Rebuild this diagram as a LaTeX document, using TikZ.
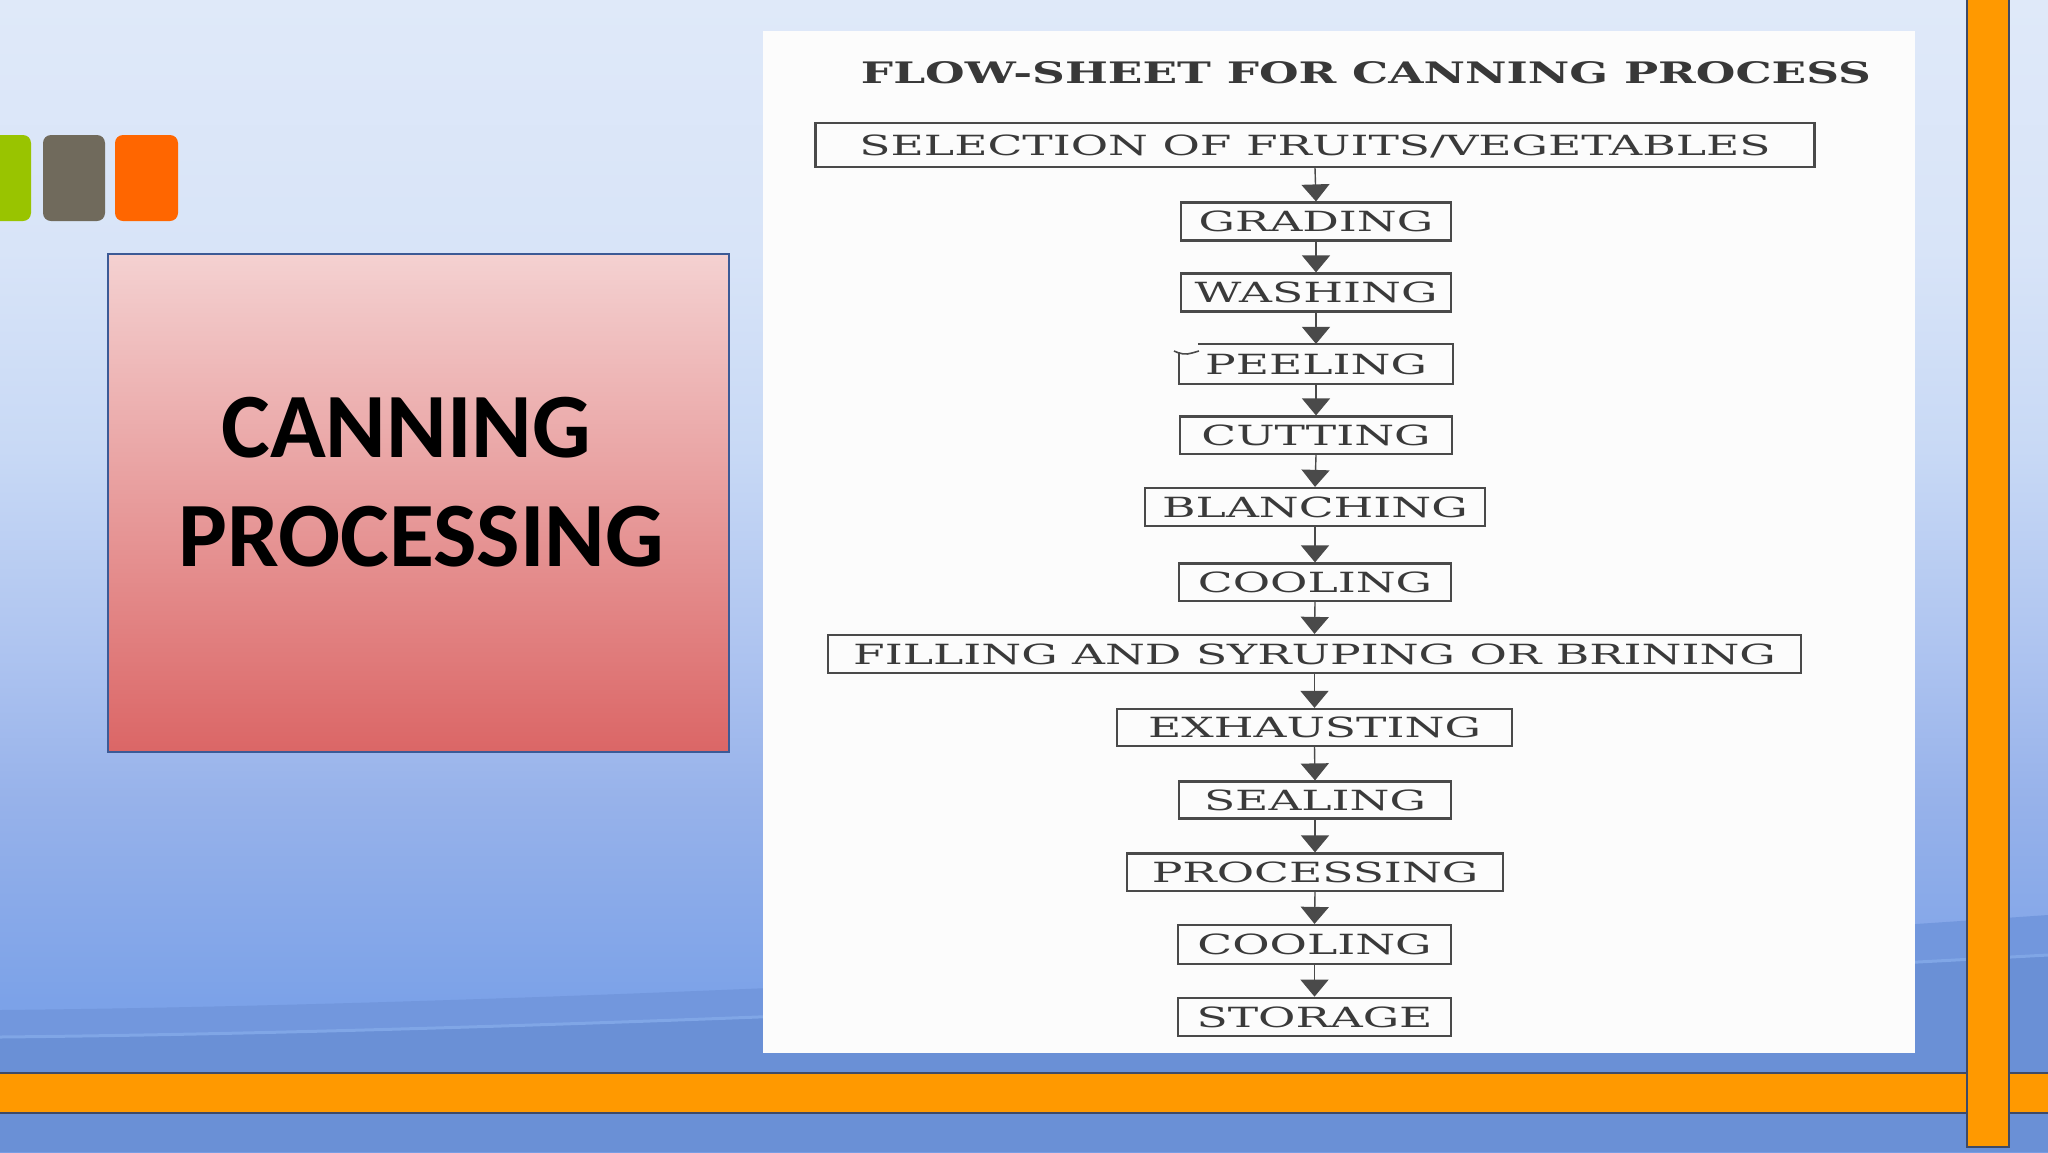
\documentclass[tikz,border=0pt]{standalone}
\usepackage{fontspec}
\usetikzlibrary{arrows.meta}
\newfontfamily\boxfont[FakeStretch=1.64]{DejaVu Serif}
\newfontfamily\titlefont[FakeStretch=1.535]{DejaVu Serif}
\newfontfamily\headfont{Carlito}
\definecolor{bgA}{HTML}{DFE9F9}
\definecolor{bgB}{HTML}{D8E4F8}
\definecolor{bgC}{HTML}{C8D9F5}
\definecolor{bgD}{HTML}{AEC4F0}
\definecolor{bgE}{HTML}{97B2EA}
\definecolor{bgF}{HTML}{7CA2E8}
\definecolor{bandc}{HTML}{7297DD}
\definecolor{bandline}{HTML}{80A6E6}
\definecolor{bottomc}{HTML}{6A90D6}
\definecolor{sqgreen}{HTML}{99C400}
\definecolor{sqgrey}{HTML}{706A5C}
\definecolor{sqorange}{HTML}{FF6600}
\definecolor{pinktop}{HTML}{F4D1D1}
\definecolor{pinkmid}{HTML}{E8A9AB}
\definecolor{pinkbot}{HTML}{DB6666}
\definecolor{pinkline}{HTML}{3C5A96}
\definecolor{orangebar}{HTML}{FF9900}
\definecolor{barline}{HTML}{3F4A66}
\definecolor{panel}{HTML}{FCFCFC}
\definecolor{boxline}{HTML}{4A4A4A}
\definecolor{boxtext}{HTML}{3A3A3A}
\definecolor{titlec}{HTML}{383838}
\pgfdeclareverticalshading{bgshade}{100bp}{color(0bp)=(bgF); color(25bp)=(bgF); color(31.6bp)=(bgF); color(40.3bp)=(bgE); color(46.8bp)=(bgD); color(55.5bp)=(bgC); color(64.15bp)=(bgB); color(75bp)=(bgA); color(100bp)=(bgA)}
\begin{document}
\begin{tikzpicture}[x=0.5pt,y=-0.5pt,
  flowbox/.style={draw=boxline, line width=1.1pt, inner sep=0pt, text=boxtext,
    font=\boxfont\fontsize{13.9pt}{14pt}\selectfont, text height=10.1pt, text depth=0pt},
  plainbox/.style={flowbox, draw=none},
  flowarrow/.style={draw=boxline, line width=0.7pt, -{Triangle[width=14pt,length=8.5pt]}},
  headtext/.style={anchor=base west, inner sep=0pt, text=black,
    font=\headfont\bfseries\fontsize{46pt}{54pt}\selectfont},
  bar/.style={fill=orangebar, draw=barline, line width=0.8pt}]
\useasboundingbox (0,0) rectangle (2048,1152);
% background
\shade[shading=bgshade] (0,0) rectangle (2048,1152);
\fill[bandc] (0,1010) .. controls (600,1004) and (1400,960) .. (2048,915) -- (2048,1152) -- (0,1152) -- cycle;
\fill[bottomc] (0,1037) .. controls (600,1031) and (1400,990) .. (2048,955) -- (2048,1152) -- (0,1152) -- cycle;
\draw[bandline, line width=1.5pt] (0,1037) .. controls (600,1031) and (1400,990) .. (2048,955);
% small squares
\fill[sqgreen, rounded corners=4pt] (-30,135) rectangle (31,221);
\fill[sqgrey, rounded corners=4pt] (43,135) rectangle (105,221);
\fill[sqorange, rounded corners=4pt] (115,135) rectangle (178,221);
% pink title box
\shade[top color=pinktop, middle color=pinkmid, bottom color=pinkbot] (108,254) rectangle (729,752);
\draw[pinkline, line width=0.8pt] (108,254) rectangle (729,752);
\node[headtext] (head1) at (221,457) {CANNING};
\node[headtext] (head2) at (178,566) {PROCESSING};
% white panel
\fill[panel] (763,31) rectangle (1915,1053);
% flow sheet
\node[anchor=base, inner sep=0pt, text=titlec,
  font=\titlefont\bfseries\fontsize{14.8pt}{16pt}\selectfont] (title) at (1366,83) {FLOW-SHEET FOR CANNING PROCESS};
\node[flowbox, minimum width=499.5pt, minimum height=22pt] (n1) at (1315,145) {SELECTION OF FRUITS/VEGETABLES};
\node[flowbox, minimum width=135pt, minimum height=19pt] (n2) at (1316,221.5) {GRADING};
\node[flowbox, minimum width=135pt, minimum height=19pt] (n3) at (1316,292.5) {WASHING};
\node[plainbox, minimum width=136pt, minimum height=19pt] (n4) at (1316,364) {PEELING};
\draw[boxline, line width=1.1pt] ([xshift=9.5pt]n4.north west) -- (n4.north east) -- (n4.south east) -- (n4.south west) -- ([yshift=-4pt]n4.north west);
\draw[boxline, line width=0.8pt] (1174,351) .. controls (1180,354) and (1186,355) .. (1192,353) -- (1199,351);
\node[flowbox, minimum width=136pt, minimum height=18.75pt] (n5) at (1316,435.25) {CUTTING};
\node[flowbox, minimum width=170pt, minimum height=19pt] (n6) at (1315,507) {BLANCHING};
\node[flowbox, minimum width=136pt, minimum height=18.75pt] (n7) at (1315,582.25) {COOLING};
\node[flowbox, minimum width=486.5pt, minimum height=19pt] (n8) at (1314.5,654) {FILLING AND SYRUPING OR BRINING};
\node[flowbox, minimum width=197.5pt, minimum height=18.5pt] (n9) at (1314.5,727.5) {EXHAUSTING};
\node[flowbox, minimum width=136pt, minimum height=18.5pt] (n10) at (1315,800) {SEALING};
\node[flowbox, minimum width=188pt, minimum height=18.75pt] (n11) at (1315,872.25) {PROCESSING};
\node[flowbox, minimum width=136.5pt, minimum height=19.5pt] (n12) at (1314.5,944.5) {COOLING};
\node[flowbox, minimum width=136.5pt, minimum height=19.25pt] (n13) at (1314.5,1017) {STORAGE};
\foreach \a/\b in {n1/n2,n2/n3,n3/n4,n4/n5,n5/n6,n6/n7,n7/n8,n8/n9,n9/n10,n10/n11,n11/n12,n12/n13}
  \draw[flowarrow] (\a.south) -- (\b.north);
% orange bars
\draw[bar] (-10,1073) rectangle (2058,1113);
\draw[bar] (1967,-10) rectangle (2009,1147);
\end{tikzpicture}
\end{document}
